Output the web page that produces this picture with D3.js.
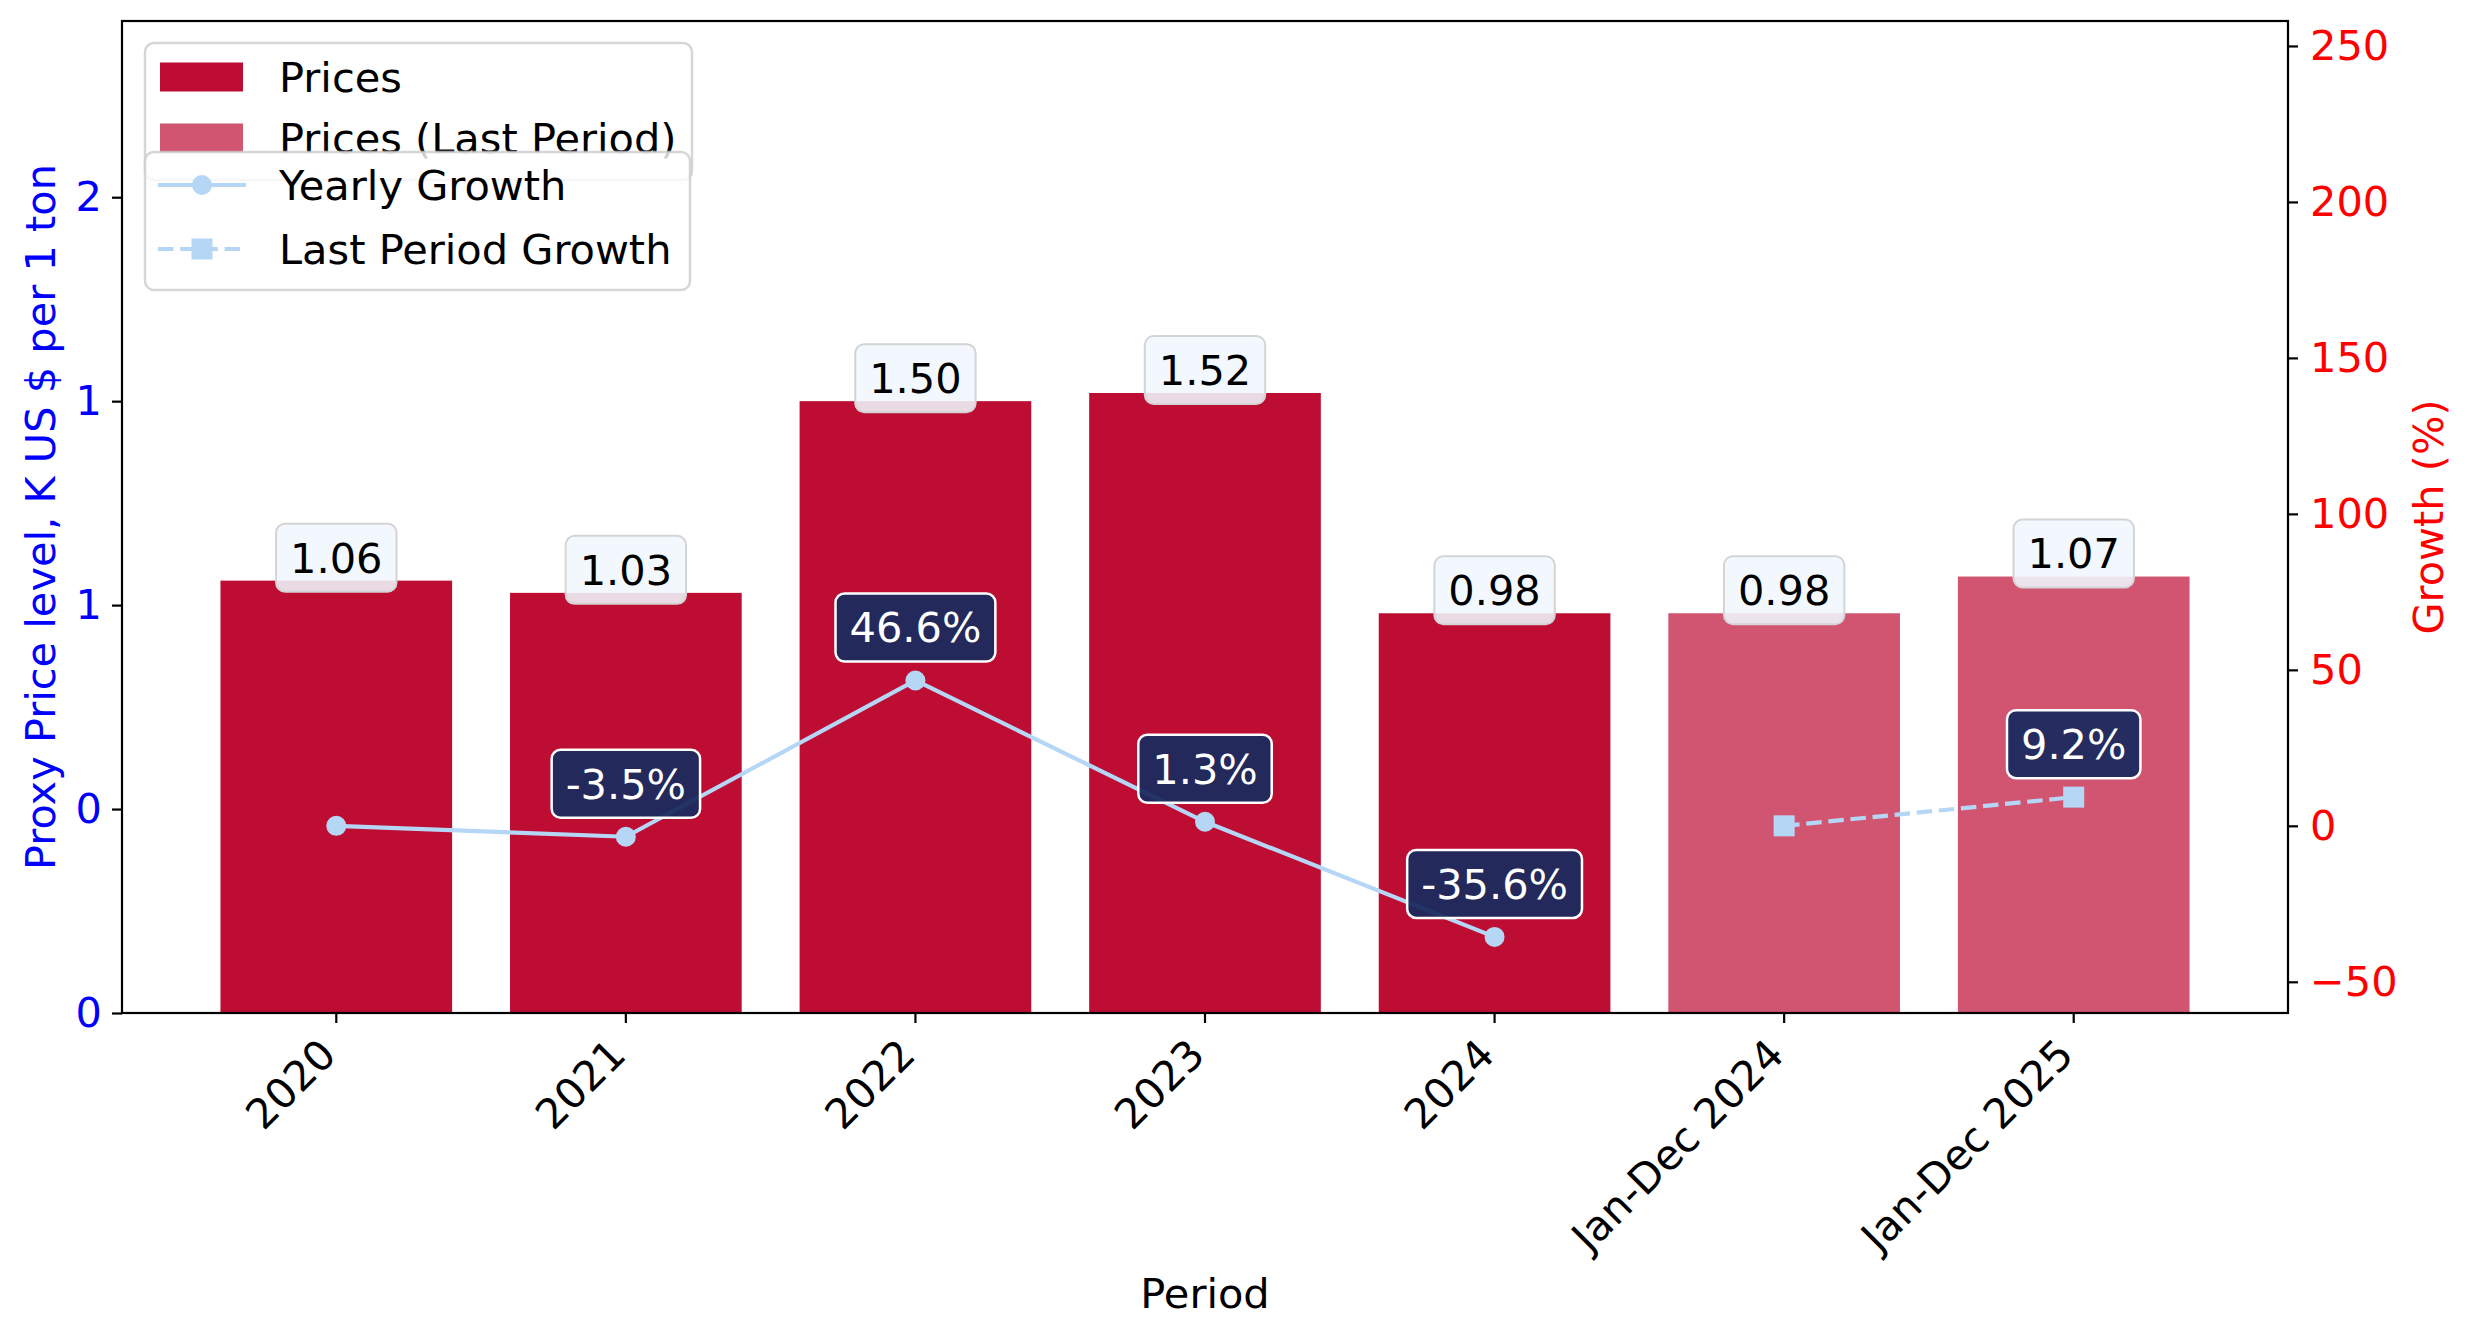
<!DOCTYPE html>
<html>
<head>
<meta charset="utf-8">
<script src="https://cdn.jsdelivr.net/npm/d3@7"></script>
<style>
  body { margin: 0; background: #fff; }
  svg { font-family: "DejaVu Sans", sans-serif; }
</style>
</head>
<body>
<div id="chart"></div>
<script>
// chart values
var categories = ["2020", "2021", "2022", "2023", "2024", "Jan-Dec 2024", "Jan-Dec 2025"];
var prices = [1.06, 1.03, 1.50, 1.52, 0.98, 0.98, 1.07];
var lastPeriodFlags = [false, false, false, false, false, true, true];

var yearlyCats = ["2020", "2021", "2022", "2023", "2024"];
var yearlyGrowth = [0, -3.5, 46.6, 1.3, -35.6];
var yearlyLabels = [null, "-3.5%", "46.6%", "1.3%", "-35.6%"];

var lastCats = ["Jan-Dec 2024", "Jan-Dec 2025"];
var lastGrowth = [0, 9.2];
var lastLabels = [null, "9.2%"];

var leftTicks = [0, 0.5, 1, 1.5, 2];
var leftTickLabels = ["0", "0", "1", "1", "2"];
var rightTicks = [-50, 0, 50, 100, 150, 200, 250];

var W = 2473, H = 1338;
var m = { left: 122, right: 2288, top: 21, bottom: 1013 };
var barColor = "#BD0D33";
var lineColor = "#B6D6F6";
var navy = "#1B2B5F";
var fs = 41.5;

var svg = d3.select("#chart").append("svg")
    .attr("width", W)
    .attr("height", H)
    .attr("viewBox", `0 0 ${W} ${H}`);

var x = d3.scaleBand()
    .domain(categories)
    .range([m.left, m.right])
    .paddingInner(0.2)
    .paddingOuter(0.34);

var yL = d3.scaleLinear().domain([0, 2.432]).range([m.bottom, m.top]);
var yR = d3.scaleLinear().domain([-60, 258]).range([m.bottom, m.top]);

function cx(c) { return x(c) + x.bandwidth() / 2; }

// bars
svg.append("g").selectAll("rect")
    .data(categories)
    .enter()
    .append("rect")
    .attr("x", function (d) { return x(d); })
    .attr("width", x.bandwidth())
    .attr("y", function (d, i) { return yL(prices[i]); })
    .attr("height", function (d, i) { return yL(0) - yL(prices[i]); })
    .attr("fill", barColor)
    .attr("fill-opacity", function (d, i) { return lastPeriodFlags[i] ? 0.7 : 1; });

// boxed label helper
function boxLabel(g, px, py, text, opts) {
    var grp = g.append("g");
    var rect = grp.append("rect");
    var t = grp.append("text")
        .attr("x", px)
        .attr("y", py)
        .attr("dy", "0.36em")
        .attr("text-anchor", "middle")
        .attr("font-size", fs)
        .attr("fill", opts.color)
        .text(text);
    var w = t.node().getComputedTextLength();
    rect.attr("x", px - w / 2 - 14)
        .attr("y", py - 34)
        .attr("width", w + 28)
        .attr("height", 68)
        .attr("rx", 9)
        .attr("fill", opts.fill)
        .attr("fill-opacity", opts.alpha)
        .attr("stroke", opts.stroke)
        .attr("stroke-width", opts.sw);
}

// value labels
var valG = svg.append("g");
categories.forEach(function (c, i) {
    boxLabel(valG, cx(c), yL(prices[i]) - 23, prices[i].toFixed(2),
        { color: "#000", fill: "#F0F7FD", alpha: 0.88, stroke: "#d4d4d4", sw: 2 });
});

// legend 1 (bars)
function legendFrame(g, x0, y0, w, h) {
    g.append("rect")
        .attr("x", x0).attr("y", y0)
        .attr("width", w).attr("height", h)
        .attr("rx", 9)
        .attr("fill", "#fff").attr("fill-opacity", 0.8)
        .attr("stroke", "#cccccc").attr("stroke-opacity", 0.8)
        .attr("stroke-width", 2.5);
}
var leg1 = svg.append("g");
legendFrame(leg1, 145, 43, 547, 137);
[["Prices", 1], ["Prices (Last Period)", 0.7]].forEach(function (e, i) {
    var cy = 77 + i * 61;
    leg1.append("rect")
        .attr("x", 160).attr("y", cy - 14.5)
        .attr("width", 83).attr("height", 29)
        .attr("fill", barColor).attr("fill-opacity", e[1]);
    leg1.append("text")
        .attr("x", 279).attr("y", cy)
        .attr("dy", "0.36em")
        .attr("font-size", fs)
        .text(e[0]);
});

// growth lines
var lineY = d3.line()
    .x(function (d) { return cx(d[0]); })
    .y(function (d) { return yR(d[1]); });

var yearlyPts = yearlyCats.map(function (c, i) { return [c, yearlyGrowth[i]]; });
var lastPts = lastCats.map(function (c, i) { return [c, lastGrowth[i]]; });

svg.append("path")
    .datum(yearlyPts)
    .attr("d", lineY)
    .attr("fill", "none")
    .attr("stroke", lineColor)
    .attr("stroke-width", 4.2);

svg.append("g").selectAll("circle")
    .data(yearlyPts)
    .enter()
    .append("circle")
    .attr("cx", function (d) { return cx(d[0]); })
    .attr("cy", function (d) { return yR(d[1]); })
    .attr("r", 10)
    .attr("fill", lineColor);

svg.append("path")
    .datum(lastPts)
    .attr("d", lineY)
    .attr("fill", "none")
    .attr("stroke", lineColor)
    .attr("stroke-width", 4.2)
    .attr("stroke-dasharray", "15.5,6.7");

svg.append("g").selectAll("rect")
    .data(lastPts)
    .enter()
    .append("rect")
    .attr("x", function (d) { return cx(d[0]) - 10.5; })
    .attr("y", function (d) { return yR(d[1]) - 10.5; })
    .attr("width", 21)
    .attr("height", 21)
    .attr("fill", lineColor);

// growth labels
var grG = svg.append("g");
var navyOpts = { color: "#fff", fill: navy, alpha: 0.95, stroke: "#fff", sw: 2.5 };
yearlyPts.forEach(function (d, i) {
    if (yearlyLabels[i]) boxLabel(grG, cx(d[0]), yR(d[1]) - 53, yearlyLabels[i], navyOpts);
});
lastPts.forEach(function (d, i) {
    if (lastLabels[i]) boxLabel(grG, cx(d[0]), yR(d[1]) - 53, lastLabels[i], navyOpts);
});

// axes
var axL = svg.append("g")
    .attr("transform", `translate(${m.left},0)`)
    .call(d3.axisLeft(yL).tickValues(leftTicks)
        .tickFormat(function (d, i) { return leftTickLabels[i]; })
        .tickSize(10).tickPadding(10));
var axR = svg.append("g")
    .attr("transform", `translate(${m.right},0)`)
    .call(d3.axisRight(yR).tickValues(rightTicks)
        .tickFormat(function (d) { return d < 0 ? "\u2212" + Math.abs(d) : d; })
        .tickSize(10).tickPadding(12));
var axB = svg.append("g")
    .attr("transform", `translate(0,${m.bottom})`)
    .call(d3.axisBottom(x).tickSize(10).tickFormat(""));

[axL, axR, axB].forEach(function (a) {
    a.select(".domain").remove();
    a.selectAll(".tick line").attr("stroke", "#000").attr("stroke-width", 2.2);
    a.selectAll("text").attr("font-size", fs).attr("font-family", "DejaVu Sans");
});
axL.selectAll("text").attr("fill", "#0000FF");
axR.selectAll("text").attr("fill", "#FF0000");

// rotated category labels
svg.append("g").selectAll("text")
    .data(categories)
    .enter()
    .append("text")
    .attr("transform", function (d) {
        return `translate(${cx(d) + 2},${m.bottom + 44}) rotate(-45)`;
    })
    .attr("text-anchor", "end")
    .attr("font-size", fs)
    .attr("fill", "#000")
    .text(function (d) { return d; });

// frame
svg.append("rect")
    .attr("x", m.left).attr("y", m.top)
    .attr("width", m.right - m.left).attr("height", m.bottom - m.top)
    .attr("fill", "none")
    .attr("stroke", "#000")
    .attr("stroke-width", 2.2);

// legend 2 (lines)
var leg2 = svg.append("g");
legendFrame(leg2, 145, 152, 545, 138);
leg2.append("line")
    .attr("x1", 158).attr("x2", 246).attr("y1", 185).attr("y2", 185)
    .attr("stroke", lineColor).attr("stroke-width", 4.2);
leg2.append("circle").attr("cx", 202).attr("cy", 185).attr("r", 10).attr("fill", lineColor);
leg2.append("line")
    .attr("x1", 158).attr("x2", 246).attr("y1", 249).attr("y2", 249)
    .attr("stroke", lineColor).attr("stroke-width", 4.2)
    .attr("stroke-dasharray", "15.5,6.7");
leg2.append("rect").attr("x", 191.5).attr("y", 238.5).attr("width", 21).attr("height", 21).attr("fill", lineColor);
[["Yearly Growth", 185], ["Last Period Growth", 249]].forEach(function (e) {
    leg2.append("text")
        .attr("x", 279).attr("y", e[1])
        .attr("dy", "0.36em")
        .attr("font-size", fs)
        .text(e[0]);
});

// axis titles
svg.append("text")
    .attr("transform", `translate(40,517) rotate(-90)`)
    .attr("text-anchor", "middle")
    .attr("dy", "0.36em")
    .attr("font-size", fs)
    .attr("fill", "#0000FF")
    .text("Proxy Price level, K US $ per 1 ton");

svg.append("text")
    .attr("transform", `translate(2428,517) rotate(-90)`)
    .attr("text-anchor", "middle")
    .attr("dy", "0.36em")
    .attr("font-size", fs)
    .attr("fill", "#FF0000")
    .text("Growth (%)");

svg.append("text")
    .attr("x", (m.left + m.right) / 2)
    .attr("y", 1293)
    .attr("dy", "0.36em")
    .attr("text-anchor", "middle")
    .attr("font-size", fs)
    .text("Period");
</script>
</body>
</html>
